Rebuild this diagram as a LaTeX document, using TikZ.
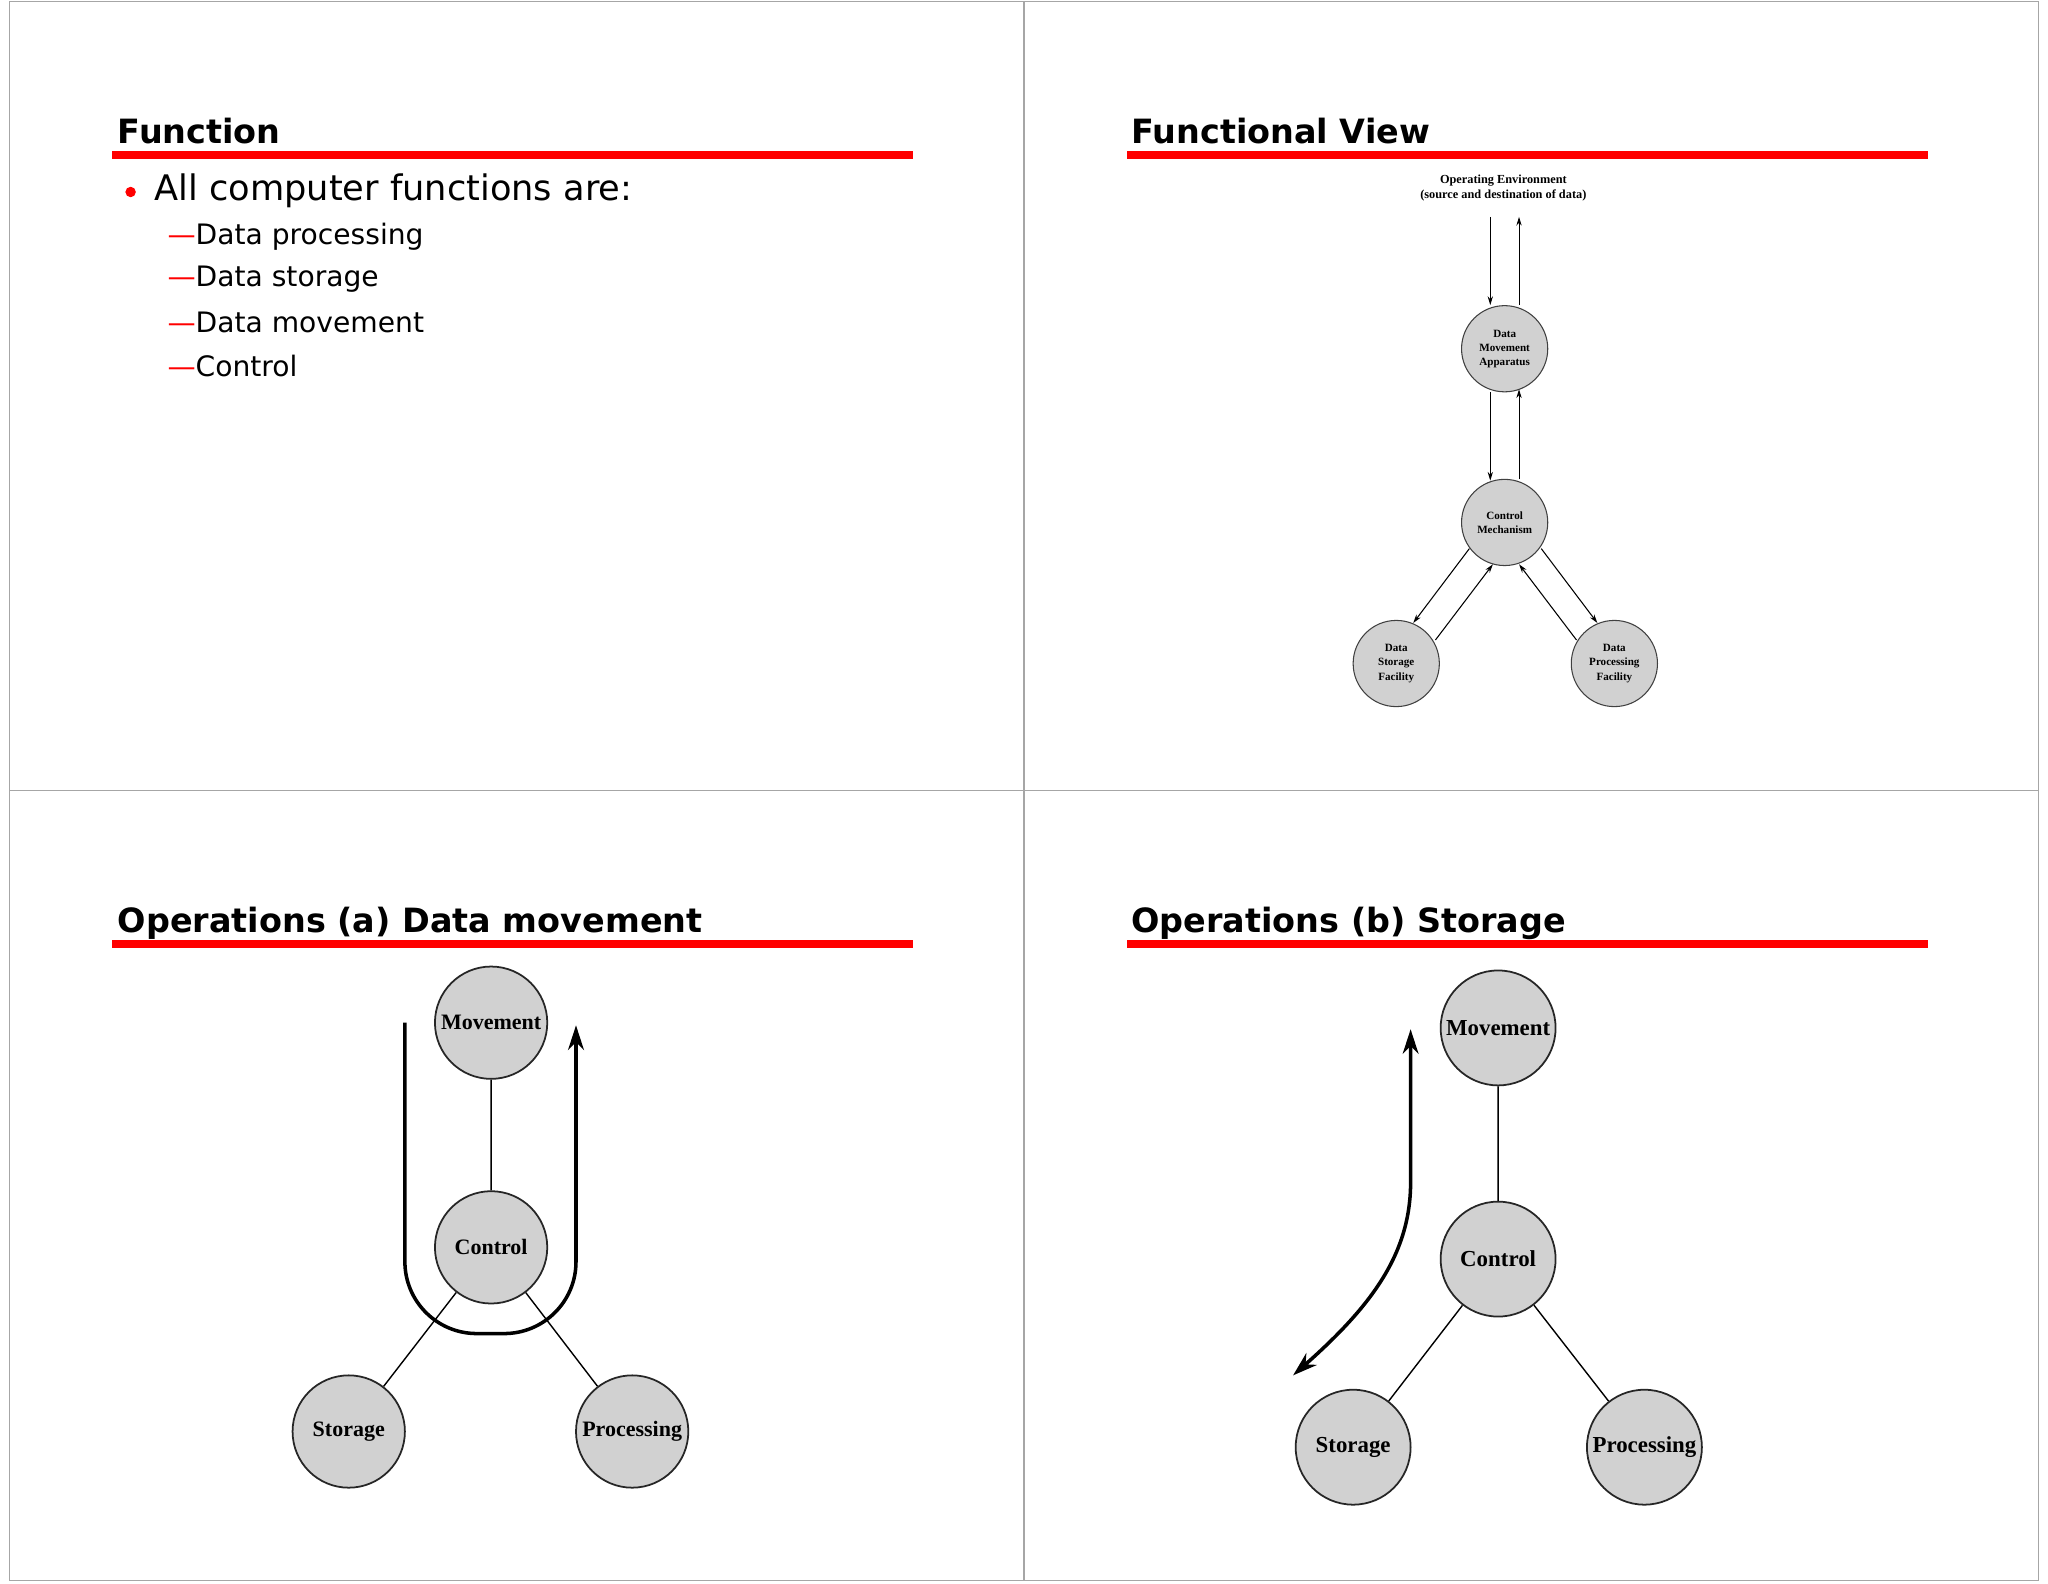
\documentclass[tikz,border=0pt]{standalone}
\usepackage{fontspec}
\setmainfont{DejaVu Sans}
\newfontfamily\dfont{Liberation Serif}
\usetikzlibrary{arrows.meta}
\begin{document}
\begin{tikzpicture}[x=0.0261cm,y=-0.0261cm,
  ttl/.style={anchor=base west,inner sep=0,font=\fontsize{19}{22}\selectfont\bfseries},
  redbar/.style={draw=red,line width=4.5pt},
  sub/.style={anchor=west,inner sep=0,font=\fontsize{16}{19}\selectfont},
  small/.style={circle,draw=black!75,fill=black!18,line width=0.6pt,minimum size=66*0.0261cm,inner sep=0,align=center,font=\dfont\bfseries\fontsize{6.3}{8}\selectfont},
  big/.style={circle,draw=black!85,fill=black!18,line width=1pt,minimum size=86*0.0261cm,inner sep=0,font=\dfont\bfseries\fontsize{12.5}{14}\selectfont},
  big4/.style={big,minimum size=88*0.0261cm,font=\dfont\bfseries\fontsize{13}{15}\selectfont},
  thin/.style={-{Stealth[length=5pt,width=3pt]},line width=0.6pt},
  fat/.style={line width=2pt,rounded corners=55*0.0261cm},
]
\useasboundingbox (0,0) rectangle (1568,1212);
\fill[white] (0,0) rectangle (1568,1212);
\draw[black!35,line width=0.6pt] (7,1) rectangle (1561,1210) (784,1)--(784,1210) (7,605)--(1561,605);
% Panel 1
\node[ttl] (t1) at (90,110) {Function};
\draw[redbar] (86,119) -- (699,119);
\node[circle,fill=red,inner sep=0,minimum size=8*0.0261cm] (b1) at (100,147) {};
\node[anchor=west,inner sep=0,font=\fontsize{20}{24}\selectfont] (l0) at (118,146) {All computer functions are:};
\foreach \t/\y/\n in {Data processing/181/a,Data storage/214/b,Data movement/247/c,Control/280/d}
  \node[sub] (s\n) at (128,\y) {\textcolor{red}{—}\t};
% Panel 2
\node[ttl] (t2) at (866,110) {Functional View};
\draw[redbar] (863,119) -- (1476,119);
\node[align=center,inner sep=0,font=\dfont\bfseries\fontsize{7}{9}\selectfont] (env) at (1151,144) {Operating Environment\\(source and destination of data)};
\node[small] (dma) at (1152,267) {Data\\Movement\\Apparatus};
\node[small] (ctl) at (1152,400) {Control\\Mechanism};
\node[small] (sto) at (1069,508) {Data\\Storage\\Facility};
\node[small] (pro) at (1236,508) {Data\\Processing\\Facility};
\coordinate (e1) at (1141,166); \coordinate (e2) at (1163,166);
\draw[thin] (e1) -- (e1 |- dma.north);
\draw[thin] (e2 |- dma.north) -- (e2);
\draw[thin] (1141,300) -- (1141,368);
\draw[thin] (1163,367) -- (1163,298);
\draw[thin] (1125,420) -- (1082,477);
\draw[thin] (1099,490) -- (1143,432);
\draw[thin] (1180,420) -- (1223,477);
\draw[thin] (1207,490) -- (1163,432);
% Panel 3
\node[ttl] (t3) at (90,714) {Operations (a) Data movement};
\draw[redbar] (86,723) -- (699,723);
\node[big] (m3) at (376,783) {Movement};
\node[big] (c3) at (376,955) {Control};
\node[big] (s3) at (267,1096) {Storage};
\node[big] (p3) at (484,1096) {Processing};
\draw[line width=0.8pt] (m3) -- (c3) (c3) -- (s3) (c3) -- (p3);
\coordinate (u1) at (310,783); \coordinate (u2) at (441,785);
\draw[fat,-{Stealth[length=14pt,width=9pt]}] (u1) -- (310,1021) -- (441,1021) -- (u2);
% Panel 4
\node[ttl] (t4) at (866,714) {Operations (b) Storage};
\draw[redbar] (863,723) -- (1476,723);
\node[big4] (m4) at (1147,787) {Movement};
\node[big4] (c4) at (1147,964) {Control};
\node[big4] (s4) at (1036,1108) {Storage};
\node[big4] (p4) at (1259,1108) {Processing};
\draw[line width=0.8pt] (m4) -- (c4) (c4) -- (s4) (c4) -- (p4);
\coordinate (v1) at (1080,788); \coordinate (v2) at (990,1053);
\draw[line width=2pt,{Stealth[length=14pt,width=9pt]}-{Stealth[length=14pt,width=9pt]}] (v1) -- (1080,905) .. controls (1080,960) and (1050,1000) .. (v2);
\end{tikzpicture}
\end{document}
